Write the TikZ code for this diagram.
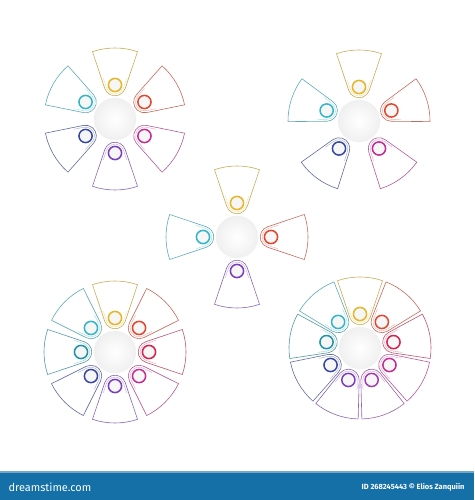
\documentclass[tikz,border=0pt]{standalone}
\usepackage{fontspec}
\newfontfamily\barfont{Fira Sans}
\definecolor{cyel}{HTML}{E6B628}
\definecolor{cred}{HTML}{E0472E}
\definecolor{ccrim}{HTML}{D2234E}
\definecolor{cmag}{HTML}{C42C93}
\definecolor{cvio}{HTML}{A23AB0}
\definecolor{cpur}{HTML}{7B3DC0}
\definecolor{cblu}{HTML}{3848A0}
\definecolor{cteal}{HTML}{1F93A8}
\definecolor{ccya}{HTML}{33B5C8}
\definecolor{barblue}{HTML}{1570A8}
% petal geometry
\def\petA{18.5}\def\petR{71}\def\petD{34}\def\petT{32.24}\def\petr{10.79}\def\petri{8.9}
% #1 centre, #2 angle, #3 colour
\newcommand{\petal}[3]{%
  \begin{scope}[shift={#1}]
    \draw[#3!65!gray!90,line width=.6pt] (#2+\petA:\petR) -- (#2+\petA:\petT)
      arc[start angle=#2+\petA+90,end angle=#2-\petA+270,radius=\petr]
      -- (#2-\petA:\petR) arc[start angle=#2-\petA,end angle=#2+\petA,radius=\petR] -- cycle;
    \begin{scope}[shift={(#2:\petD)}]
      \draw[#3!45,line width=.4pt] (#2+\petA+90:\petri) ++(#2+\petA:10) -- ++(#2+\petA+180:10)
        arc[start angle=#2+\petA+90,end angle=#2-\petA+270,radius=\petri] -- ++(#2-\petA:10);
      \draw[#3,line width=1.5pt,fill=gray!7] (0,0) circle[radius=6.6];
    \end{scope}
  \end{scope}}
\newcommand{\hub}[1]{%
  \shade[inner color=white,outer color=gray!12] #1 circle[radius=21];
  \draw[gray!10,line width=.4pt] #1 circle[radius=21];}
\begin{document}
\begin{tikzpicture}[line cap=round,line join=round,x=1pt,y=1pt]
  \useasboundingbox (0,0) rectangle (474,500);
  \fill[white] (0,0) rectangle (474,500);
  % six
  \foreach \t/\c in {90/cyel,30/cred,-30/cmag,-90/cpur,-150/cblu,150/ccya}
    \petal{(115,381)}{\t}{\c};
  \hub{(115,381)}
  % five
  \foreach \t/\c in {90/cyel,18/cred,-54/cmag,-126/cblu,162/ccya}
    \petal{(359,379)}{\t}{\c};
  \hub{(359,379)}
  % four
  \foreach \t/\c in {90/cyel,0/cred,-90/cpur,180/ccya}
    \petal{(237,263)}{\t}{\c};
  \hub{(237,263)}
  % eight
  \foreach \t/\c in {90/cyel,45/cred,0/ccrim,-45/cmag,-90/cpur,-135/cblu,180/cteal,135/ccya}
    \petal{(115,148)}{\t}{\c};
  \hub{(115,148)}
  % nine
  \foreach \t/\c in {90/cyel,50/cred,10/ccrim,-30/cmag,-70/cvio,-110/cpur,-150/cblu,170/cteal,130/ccya}
    \petal{(360,152)}{\t}{\c};
  \hub{(360,152)}
  % bar
  \fill[barblue] (0,0) rectangle (474,27);
  \fill[barblue!60] (0,27) rectangle (474,28.5);
  \node[anchor=west,text=white,font=\barfont\fontsize{11}{12}\selectfont] (logo) at (5,13) {dreamstime.com};
  \node[anchor=east,text=white,font=\barfont\bfseries\fontsize{7.5}{9}\selectfont] (credit) at (468,13) {ID 268245443 © Elios Zanquiin};
\end{tikzpicture}
\end{document}
